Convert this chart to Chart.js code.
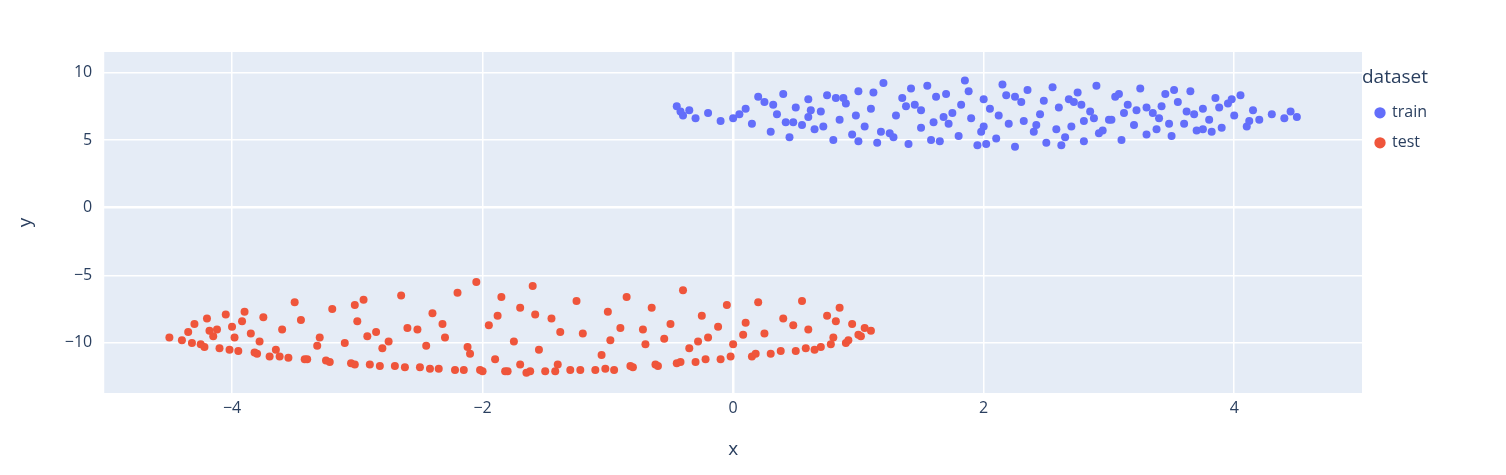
<!DOCTYPE html>
<html><head><meta charset="utf-8">
<script src="https://cdn.jsdelivr.net/npm/chart.js@4"></script>
<style>html,body{margin:0;padding:0;background:#fff}#w{width:1506px;height:475px}</style>
</head><body><div id="w"><canvas id="c"></canvas></div>
<script>
const seriesNames = ["train","test"];
const trainX = [-0.45,-0.4,-0.35,-0.3,-0.2,-0.1,0.0,0.1,0.15,0.2,0.25,0.3,0.35,0.4,0.45,0.5,0.55,0.6,0.65,0.7,0.75,0.8,0.85,0.9,0.95,1.0,1.05,1.1,1.15,1.2,1.25,1.3,1.35,1.4,1.45,1.5,1.55,1.6,1.65,1.7,1.75,1.8,1.85,1.9,1.95,2.0,2.05,2.1,2.15,2.2,2.25,2.3,2.35,2.4,2.45,2.5,2.55,2.6,2.65,2.7,2.75,2.8,2.85,2.9,2.95,3.0,3.05,3.1,3.15,3.2,3.25,3.3,3.35,3.4,3.45,3.5,3.55,3.6,3.65,3.7,3.75,3.8,3.85,3.9,3.95,4.0,4.05,4.1,4.15,4.2,4.3,4.4,4.5,4.45,3.75,1.0,2.0,2.8,1.5,0.6,3.3,
  -0.42,0.05,0.32,0.48,0.72,0.88,1.12,1.28,1.42,1.58,1.72,1.88,2.02,2.18,2.32,2.48,2.62,2.78,2.92,3.08,3.22,3.38,3.52,3.68,3.82,3.98,4.12,0.62,0.98,1.38,1.62,1.98,2.42,2.68,2.88,3.12,3.42,3.62,0.42,0.82,1.18,1.68,2.12,2.58,3.02,3.48,3.88,2.25,2.72,1.82];
const trainY = [7.5,6.8,7.2,6.6,7.0,6.4,6.6,7.3,6.2,8.2,7.8,5.6,6.9,8.4,5.2,7.4,6.1,8.0,5.8,7.1,8.3,5.0,6.5,7.7,5.4,8.6,6.0,7.3,4.8,9.2,5.5,6.8,8.1,4.7,7.6,5.9,9.0,6.3,4.9,8.4,7.0,5.3,9.4,6.6,4.6,8.0,7.3,5.1,9.1,6.2,4.5,7.8,8.7,5.6,6.9,4.8,8.9,7.4,5.2,6.0,8.5,4.9,7.1,9.0,5.7,6.5,8.2,5.0,7.6,6.1,8.8,5.4,7.0,6.6,8.4,5.3,7.8,6.2,8.6,5.7,7.3,6.5,8.1,5.9,7.7,6.8,8.3,6.0,7.2,6.5,6.9,6.6,6.7,7.1,5.8,4.9,6.0,6.4,7.2,6.7,7.4,
  7.1,6.9,7.6,6.3,6.0,8.1,8.5,5.2,8.8,5.0,6.2,8.6,4.7,8.3,6.4,7.9,4.6,7.6,5.5,8.4,7.2,5.8,8.7,6.9,5.6,8.0,6.4,7.2,6.8,7.5,8.2,5.6,6.1,8.0,6.6,7.0,7.5,7.1,6.3,8.1,5.6,6.7,6.8,5.8,6.5,6.2,7.4,8.2,7.8,7.6];
const testX = [-4.5,-4.4,-4.35,-4.3,-4.25,-4.2,-4.15,-4.1,-4.05,-4.0,-3.95,-3.9,-3.85,-3.8,-3.75,-3.7,-3.6,-3.55,-3.5,-3.45,-3.4,-3.3,-3.25,-3.2,-3.1,-3.05,-3.0,-2.95,-2.9,-2.85,-2.8,-2.7,-2.65,-2.6,-2.5,-2.45,-2.4,-2.35,-2.3,-2.2,-2.15,-2.1,-2.05,-2.0,-1.95,-1.9,-1.85,-1.8,-1.75,-1.7,-1.65,-1.6,-1.55,-1.5,-1.45,-1.4,-1.3,-1.25,-1.2,-1.1,-1.05,-1.0,-0.95,-0.9,-0.85,-0.8,-0.7,-0.65,-0.6,-0.5,-0.45,-0.4,-0.35,-0.3,-0.25,-0.2,-0.1,-0.05,0.0,0.1,0.15,0.2,0.25,0.3,0.4,0.5,0.55,0.6,0.7,0.75,0.8,0.85,0.9,0.95,1.0,1.05,1.1,-3.65,-2.75,-1.7,-0.55,0.65,
  -4.32,-4.22,-4.12,-4.02,-3.92,-3.82,-3.62,-3.42,-3.22,-3.02,-2.82,-2.62,-2.42,-2.22,-2.02,-1.82,-1.62,-1.42,-1.22,-1.02,-0.82,-0.62,-0.42,-0.22,-0.02,0.18,0.38,0.58,0.78,0.92,1.02,-4.18,-3.98,-3.78,-3.32,-2.92,-2.52,-2.12,-1.88,-1.38,-0.98,-0.72,-0.28,0.08,0.48,0.82,-3.02,-2.32,-1.58,-0.12];
const testY = [-9.6,-9.8,-9.2,-8.6,-10.1,-8.2,-9.5,-10.4,-7.9,-8.8,-10.6,-7.7,-9.3,-10.8,-8.1,-11.0,-9.0,-11.1,-7.0,-8.3,-11.2,-9.6,-11.3,-7.5,-10.0,-11.5,-8.4,-6.8,-11.6,-9.2,-10.4,-11.7,-6.5,-8.9,-11.8,-10.2,-7.8,-11.9,-9.6,-6.3,-12.0,-10.8,-5.5,-12.1,-8.7,-11.2,-6.6,-12.1,-9.9,-7.4,-12.2,-5.8,-10.5,-12.1,-8.2,-11.6,-12.0,-6.9,-9.3,-12.0,-10.9,-7.7,-12.0,-8.9,-6.6,-11.8,-10.1,-7.4,-11.7,-8.6,-11.5,-6.1,-10.4,-11.4,-8.0,-9.6,-11.2,-7.2,-10.1,-8.5,-11.0,-7.0,-9.3,-10.8,-8.2,-10.6,-6.9,-9.0,-10.3,-8.0,-9.6,-7.4,-10.0,-8.6,-9.4,-8.9,-9.1,-10.5,-9.9,-11.6,-9.7,-10.5,
  -10.0,-10.3,-9.0,-10.5,-8.4,-10.7,-11.0,-11.2,-11.4,-11.6,-11.7,-11.8,-11.9,-12.0,-12.0,-12.1,-12.1,-12.1,-12.0,-11.9,-11.7,-11.6,-11.4,-11.2,-11.0,-10.8,-10.6,-10.4,-10.1,-9.8,-9.5,-9.1,-9.6,-9.9,-10.2,-9.5,-9.0,-10.3,-8.0,-9.2,-9.8,-9.0,-9.9,-9.4,-8.7,-8.4,-7.2,-8.6,-7.9,-8.8];
const xTicks = [-4,-2,0,2,4];
const yTicks = [-10,-5,0,5,10];
const colors = ["#636efa","#EF553B"];

const pts = (xs, ys) => xs.map((x,i)=>({x, y: ys[i]}));
const fmt = v => (v<0 ? "\u2212"+Math.abs(v) : String(v));
const bg = {id:"bg", beforeDraw(ch){const a=ch.chartArea,c=ch.ctx;c.save();c.fillStyle="#E5ECF6";c.fillRect(a.left,a.top,a.right-a.left,a.bottom-a.top);c.restore();}};
const legendWidth = {id:"lw", afterInit(ch){const L=ch.legend;const f=L.fit;L.fit=function(){f.call(this);this.width=134;};}};
Chart.defaults.font.family = "'Open Sans', sans-serif";
Chart.defaults.color = "#2a3f5f";
new Chart(document.getElementById("c"), {
  type: "scatter",
  data: { datasets: [
    {label: seriesNames[0], data: pts(trainX,trainY), backgroundColor: colors[0], borderColor: colors[0], pointRadius: 4, pointBorderWidth: 0},
    {label: seriesNames[1], data: pts(testX,testY), backgroundColor: colors[1], borderColor: colors[1], pointRadius: 4, pointBorderWidth: 0}
  ]},
  options: {
    responsive: true, maintainAspectRatio: false, animation: false,
    layout: {padding: {top: 52, bottom: 10, left: 10, right: 10}},
    plugins: {
      tooltip: {enabled: false},
      legend: {position: "right", align: "start",
        title: {display: true, text: "dataset", position: "start", font: {size: 19}, padding: {top: 16, bottom: 0}},
        labels: {usePointStyle: true, pointStyle: "circle", boxWidth: 8, boxHeight: 8, font: {size: 16}, padding: 14}}
    },
    scales: {
      x: {min: -5.02, max: 5.02,
        afterBuildTicks: s => { s.ticks = xTicks.map(v=>({value:v})); },
        ticks: {callback: fmt, font: {size: 16}, padding: 6},
        grid: {color: "#fff", lineWidth: c => c.tick && c.tick.value===0 ? 2.5 : 1.5, drawTicks: false},
        border: {display: false},
        title: {display: true, text: "x", font: {size: 19}, padding: {top: 14}}},
      y: {min: -13.7, max: 11.5,
        afterBuildTicks: s => { s.ticks = yTicks.map(v=>({value:v})); },
        ticks: {callback: fmt, font: {size: 16}, padding: 12},
        grid: {color: "#fff", lineWidth: c => c.tick && c.tick.value===0 ? 2.5 : 1.5, drawTicks: false},
        border: {display: false},
        title: {display: true, text: "y", font: {size: 19}, padding: {bottom: 16}}}
    }
  },
  plugins: [bg, legendWidth]
});
</script></body></html>
